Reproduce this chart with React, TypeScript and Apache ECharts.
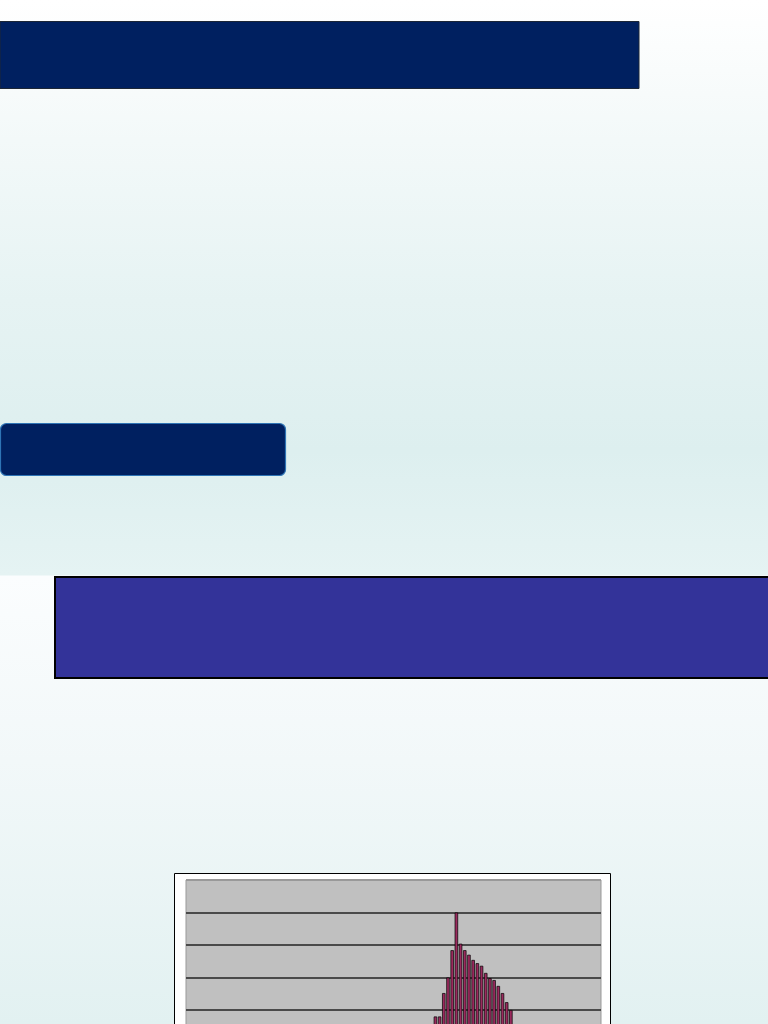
import { useEffect, useRef } from "react";
import * as echarts from "echarts";

// histogram bins (labels are never visible, the axis sits below the page)
const binLabels = Array.from({ length: 99 }, (_, i) => String(i + 1));

// counts per bin
const binCounts = [
  0, 0, 0, 0, 0, 0, 0, 0, 0, 0,
  0, 0, 0, 0, 0, 0, 0, 0, 0, 0,
  0, 0, 0, 0, 0, 0, 0, 0, 0, 0,
  0, 0, 0, 0, 0, 0, 0, 0, 0, 0,
  0, 0, 0, 0, 0, 0, 0, 0, 0, 0,
  0, 0, 0, 0, 0, 0, 0, 0, 0, 14,
  14, 17.6, 20, 24.2, 30, 25.2, 24.2, 23.5, 22.7, 22.2,
  21.8, 20.7, 19.9, 19.6, 18.7, 17.6, 16.2, 15, 0, 0,
  0, 0, 0, 0, 0, 0, 0, 0, 0, 0,
  0, 0, 0, 0, 0, 0, 0, 0, 0,
];

const yMin = 0;
const yMax = 35;
const yStep = 5;

export default function App() {
  const chartRef = useRef<HTMLDivElement>(null);

  useEffect(() => {
    if (!chartRef.current) return;
    const chart = echarts.init(chartRef.current, null, { renderer: "svg" });

    // one colour per split line, the top one is the lighter plot border
    const gridColors = ["#4a4a4a", "#4a4a4a", "#4a4a4a", "#4a4a4a", "#4a4a4a", "#4a4a4a", "#4a4a4a", "#999999"];

    const option: echarts.EChartsOption = {
      animation: false,
      backgroundColor: "transparent",
      graphic: {
        elements: [
          {
            type: "rect",
            z: -1,
            shape: { x: 0, y: 21.5, width: 639, height: 67 },
            style: { fill: "#002060", stroke: "#1c2636", lineWidth: 1 },
          },
          {
            type: "rect",
            z: -1,
            shape: { x: 0.5, y: 423.5, width: 285, height: 52, r: 6 },
            style: { fill: "#002060", stroke: "#2e74b5", lineWidth: 1.2 },
          },
          {
            type: "rect",
            z: -1,
            shape: { x: 55, y: 577, width: 720, height: 101 },
            style: { fill: "#333399", stroke: "#000000", lineWidth: 2 },
          },
          {
            type: "rect",
            z: -1,
            shape: { x: 174.5, y: 873.5, width: 436, height: 230 },
            style: { fill: "#ffffff", stroke: "#000000", lineWidth: 1 },
          },
        ],
      },
      grid: {
        left: 186,
        top: 880,
        width: 415,
        height: 227.5,
        containLabel: false,
        show: true,
        backgroundColor: "#c0c0c0",
        borderColor: "#999999",
        borderWidth: 1,
      },
      xAxis: {
        type: "category",
        data: binLabels,
        axisLine: { show: false },
        axisTick: { show: false },
        axisLabel: { show: false },
        splitLine: { show: false },
      },
      yAxis: {
        type: "value",
        min: yMin,
        max: yMax,
        interval: yStep,
        axisLine: { show: false },
        axisTick: { show: false },
        axisLabel: { show: false },
        splitLine: {
          show: true,
          lineStyle: { color: gridColors, width: 2 },
        },
      },
      series: [
        {
          type: "bar",
          data: binCounts,
          barWidth: 3.4,
          itemStyle: {
            color: "#9b2a5e",
            borderColor: "#000000",
            borderWidth: 0.7,
          },
        },
      ],
    };

    chart.setOption(option);

    return () => {
      chart.dispose();
    };
  }, []);

  // the chart canvas runs past the bottom of the page, the wrapper crops it
  return (
    <div
      style={{
        position: "fixed",
        left: 0,
        top: 0,
        width: 768,
        height: 1024,
        overflow: "hidden",
        background:
          "linear-gradient(to bottom, #ffffff 0px, #f3f9f9 140px, #e6f3f3 300px, #ddefef 450px, #e5f3f3 575px, #fbfdfe 576px, #f2f8f9 760px, #e2f1f1 1024px)",
      }}
    >
      <div ref={chartRef} style={{ width: 768, height: 1140 }} />
    </div>
  );
}
